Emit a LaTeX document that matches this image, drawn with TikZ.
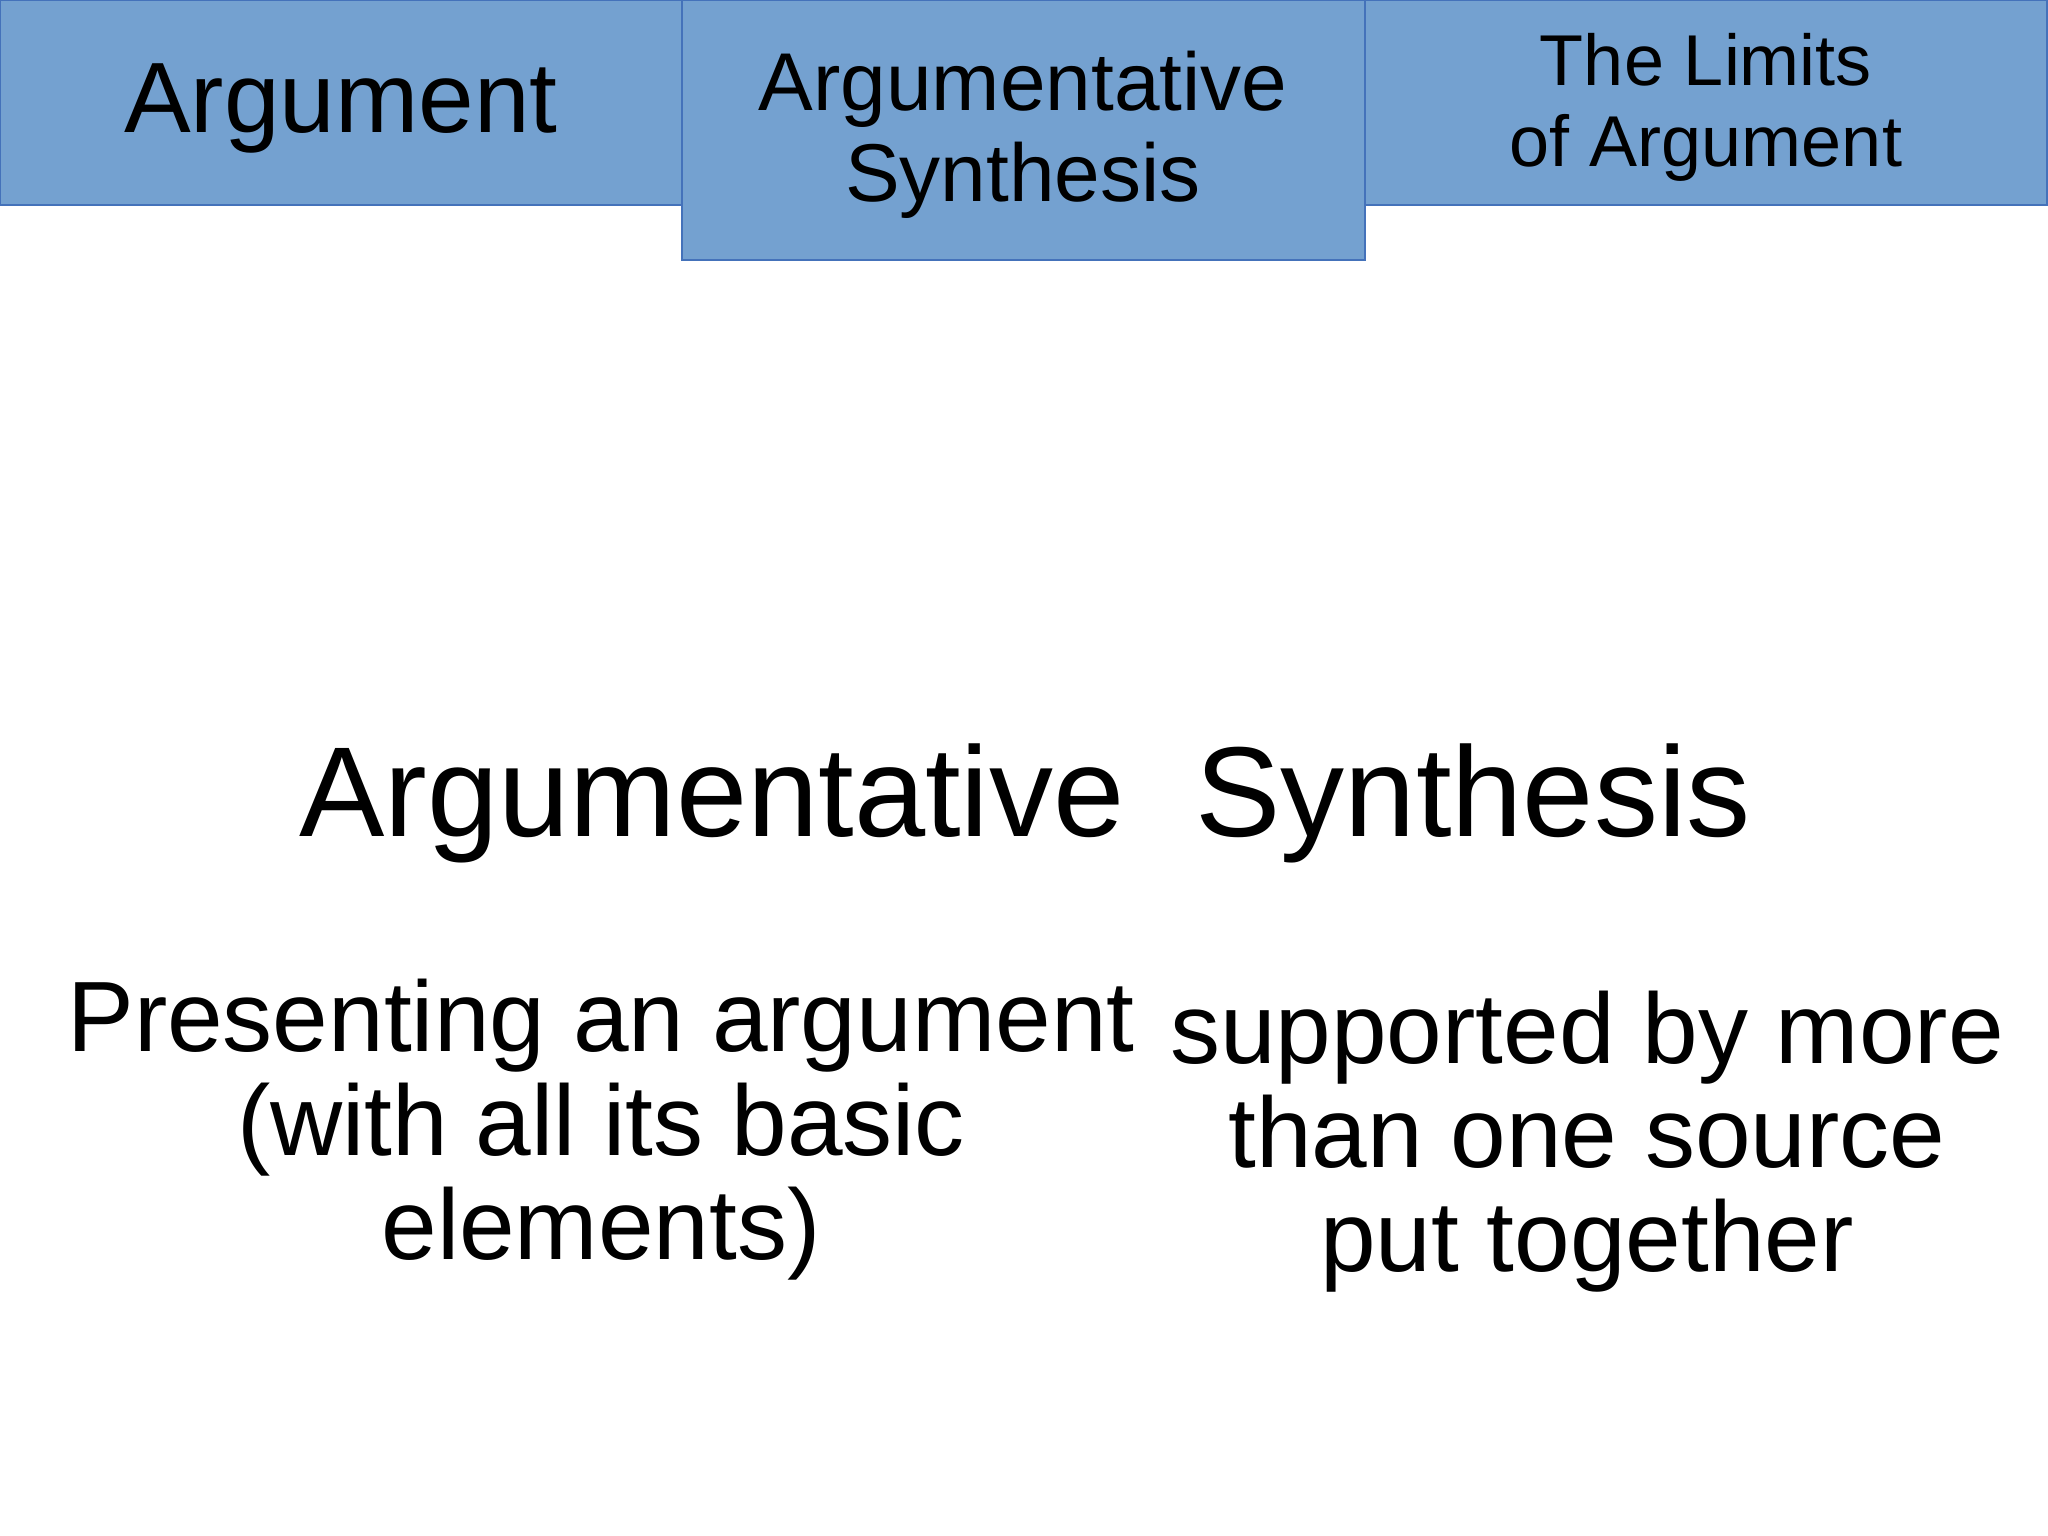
\documentclass[tikz,border=0pt]{standalone}
\usepackage{fontspec}
\setmainfont{Liberation Sans}
\begin{document}
\begin{tikzpicture}[x=0.5pt,y=-0.5pt,
  tab/.style={draw=black!0,fill=none},
  tabbox/.style={fill={rgb,255:red,116;green,161;blue,208},draw={rgb,255:red,68;green,114;blue,186},line width=1pt},
  txt/.style={align=center,inner sep=0pt,text=black}]
\useasboundingbox (0,0) rectangle (2048,1535);
\fill[white] (0,0) rectangle (2048,1535);
\draw[tabbox] (0,0) rectangle (682,205);
\draw[tabbox] (1365,0) rectangle (2047,205);
\draw[tabbox] (682,0) rectangle (1365,260);
\node[txt,font=\fontsize{50pt}{55pt}\selectfont] (a) at (341,108) {Argument};
\node[txt,font=\fontsize{41pt}{45.5pt}\selectfont] (b) at (1023,135) {Argumentative\\Synthesis};
\node[txt,font=\fontsize{36pt}{40.5pt}\selectfont] (c) at (1706,107) {The Limits\\of Argument};
\node[txt,font=\fontsize{64pt}{70pt}\selectfont] (t1) at (712,803) {Argumentative};
\node[txt,font=\fontsize{64pt}{70pt}\selectfont] (t2) at (1473,803) {Synthesis};
\node[txt,font=\fontsize{50pt}{52pt}\selectfont] (l) at (601,1130) {Presenting an argument\\(with all its basic\\elements)};
\node[txt,font=\fontsize{50pt}{52pt}\selectfont] (r) at (1587,1142) {supported by more\\than one source\\put together};
\end{tikzpicture}
\end{document}
